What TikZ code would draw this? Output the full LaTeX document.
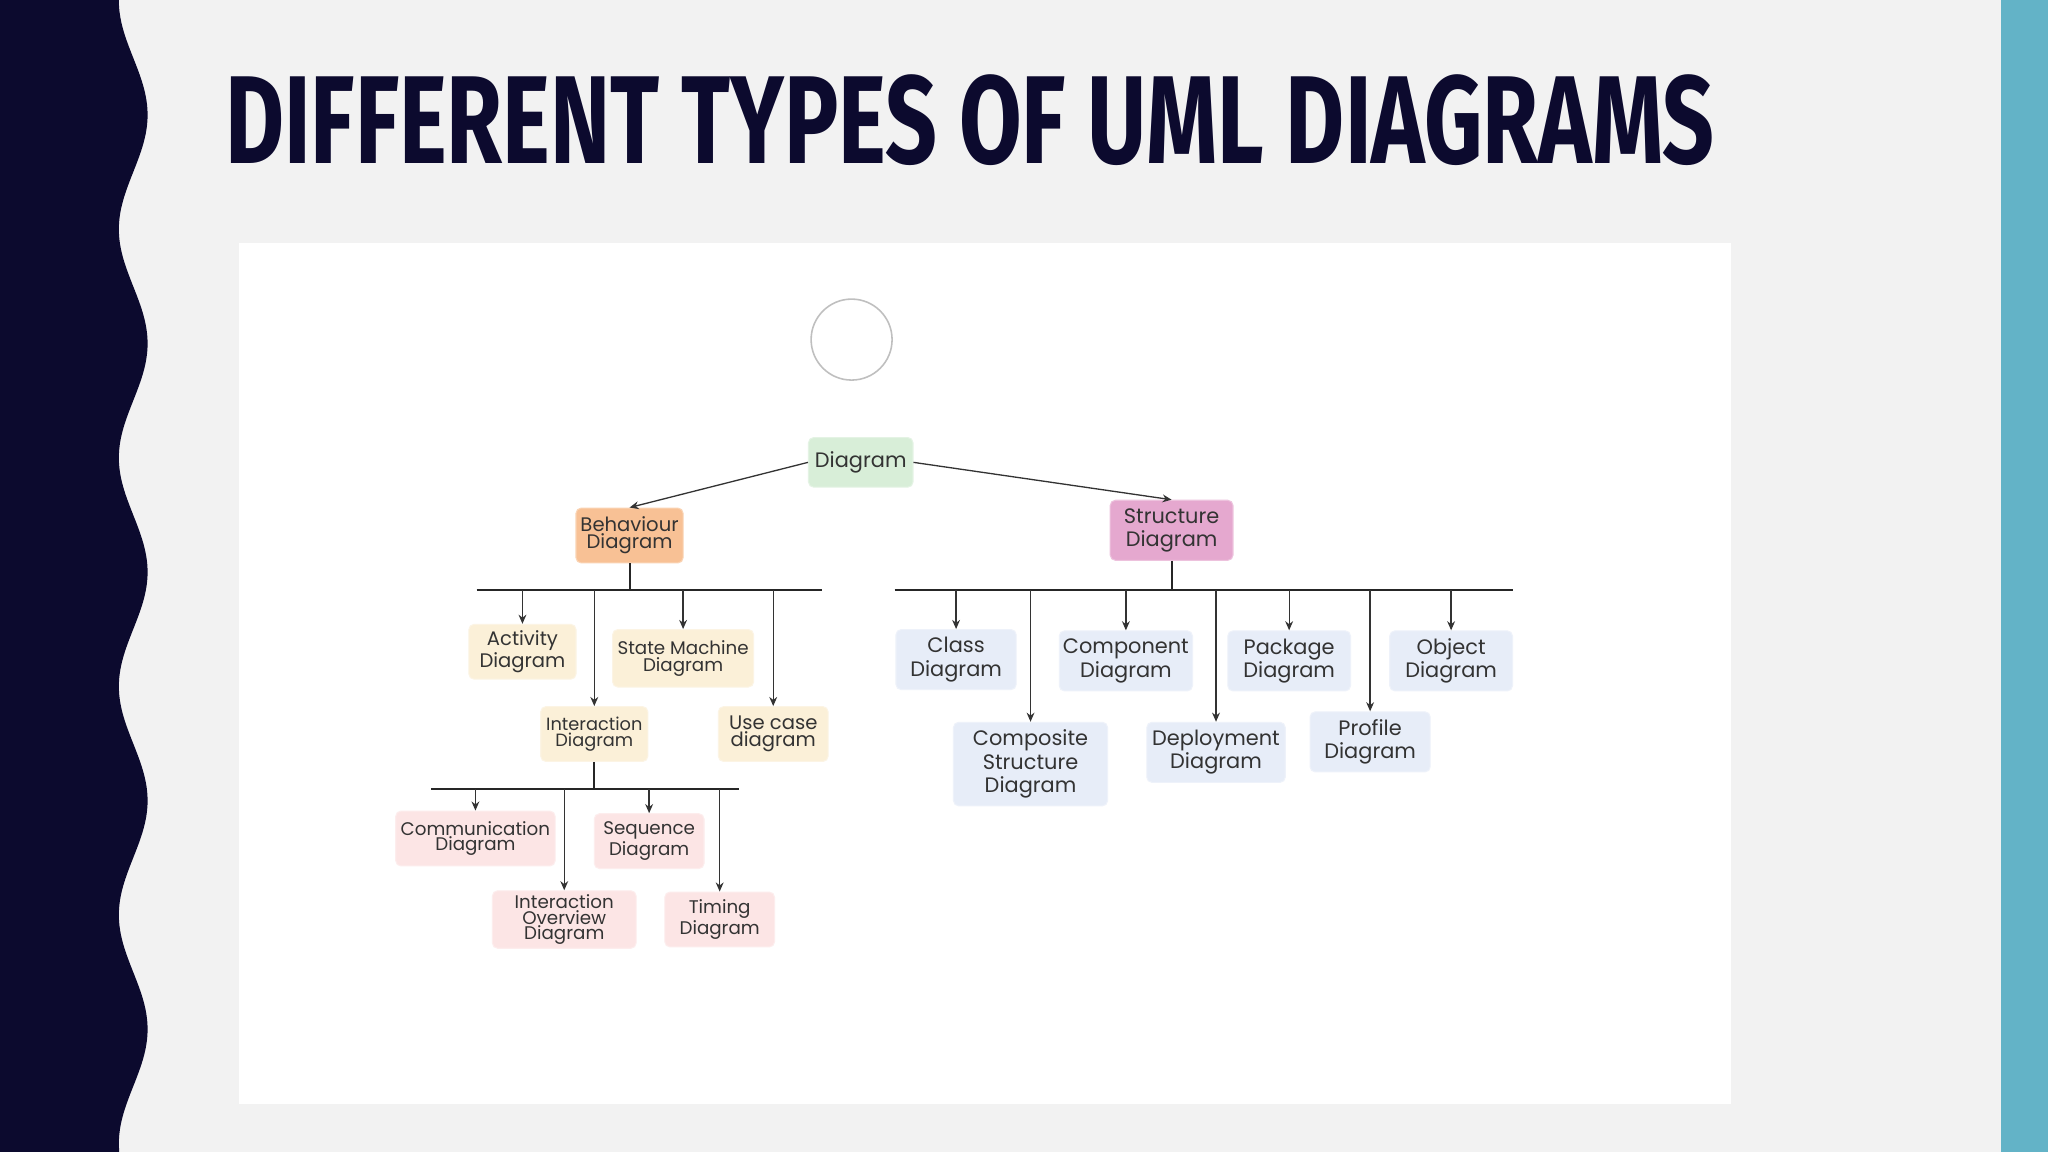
\documentclass[tikz,border=0pt]{standalone}
\usepackage{fontspec}
\setmainfont{Poppins}
\newfontfamily\titlefont{Fira Sans}
\usetikzlibrary{arrows.meta}
\definecolor{navy}{HTML}{0C0A2E}
\definecolor{teal}{HTML}{63B3C7}
\definecolor{slide}{HTML}{F2F2F2}
\tikzset{
  box/.style={draw=#1!70!white, fill=#1, rounded corners=2pt, align=center, inner sep=0pt, text=black!80, font=\fontsize{7.5}{6.5}\selectfont},
  tree/.style={line width=0.8pt, black!85},
  arr/.style={-{Stealth[length=3.5pt,width=3pt]}, line width=0.5pt, black!80},
}
\definecolor{cgreen}{HTML}{D8EED8}
\definecolor{corange}{HTML}{F8C195}
\definecolor{cpink}{HTML}{E5A8CF}
\definecolor{ccream}{HTML}{FBF0D8}
\definecolor{crose}{HTML}{FCE5E5}
\definecolor{cblue}{HTML}{E7EDF8}
\begin{document}
\begin{tikzpicture}[x=0.5pt,y=-0.5pt]
\useasboundingbox (0,0) rectangle (1568,882);
\fill[slide] (0,0) rectangle (1568,882);
% wavy band
\fill[navy] (0,0) -- plot[domain=0:882,samples=200,smooth] ({102+11*cos(2.0571*(\x-88))},\x) -- (0,882) -- cycle;
\fill[teal] (1532,0) rectangle (1568,882);
% title
\node[anchor=west, text=navy, inner sep=0pt] (title) at (172,92)
  {\resizebox{570pt}{34pt}{\titlefont\bfseries DIFFERENT TYPES OF UML DIAGRAMS}};
% panel
\fill[white] (183,186) rectangle (1325,845);
\draw[black!25, line width=0.6pt] (652,260) circle (31);

% root
\node[box=cgreen, minimum width=40pt, minimum height=19pt, font=\fontsize{8}{9}\selectfont] (d) at (659,354) {Diagram};
\node[box=corange, minimum width=41pt, minimum height=21pt] (b) at (482,410) {Behaviour\\Diagram};
\node[box=cpink, minimum width=47pt, minimum height=23pt, font=\fontsize{8}{9}\selectfont] (s) at (897,406) {Structure\\Diagram};
\draw[arr] (d.west) -- (b.north);
\draw[arr] (d.east) -- (s.north);

% behaviour
\coordinate (bl) at (365,452); \coordinate (br) at (629,452);
\draw[tree] (bl) -- (br);
\draw[tree] (b.south) -- (b.south |- bl);
\node[box=ccream, minimum width=41pt, minimum height=21pt] (act) at (400,499) {Activity\\Diagram};
\node[box=ccream, minimum width=54pt, minimum height=22pt, font=\fontsize{7}{6.5}\selectfont] (st) at (523,504) {State Machine\\Diagram};
\node[box=ccream, minimum width=41pt, minimum height=21pt, font=\fontsize{6.8}{6}\selectfont] (int) at (455,562) {Interaction\\Diagram};
\node[box=ccream, minimum width=42pt, minimum height=21pt] (uc) at (592,562) {Use case\\diagram};
\foreach \n in {act,st,int,uc} \draw[arr] (\n.north |- bl) -- (\n.north);

% interaction
\coordinate (il) at (330,604); \coordinate (ir) at (566,604);
\draw[tree] (il) -- (ir);
\draw[tree] (int.south) -- (int.south |- il);
\node[box=crose, minimum width=61pt, minimum height=21pt, font=\fontsize{7}{6}\selectfont] (com) at (364,642) {Communication\\Diagram};
\node[box=crose, minimum width=42pt, minimum height=21pt, font=\fontsize{7}{6}\selectfont] (seq) at (497,644) {Sequence\\Diagram};
\node[box=crose, minimum width=55pt, minimum height=22pt, font=\fontsize{7}{6}\selectfont] (io) at (432,704) {Interaction\\Overview\\Diagram};
\node[box=crose, minimum width=42pt, minimum height=21pt, font=\fontsize{7}{6}\selectfont] (tim) at (551,704) {Timing\\Diagram};
\foreach \n in {com,seq,io,tim} \draw[arr] (\n.north |- il) -- (\n.north);

% structure
\coordinate (sl) at (685,452); \coordinate (sr) at (1158,452);
\draw[tree] (sl) -- (sr);
\draw[tree] (s.south) -- (s.south |- sl);
\tikzset{sbox/.style={box=cblue, minimum height=23pt, font=\fontsize{8}{9}\selectfont}}
\node[sbox, minimum width=46pt] (cla) at (732,505) {Class\\Diagram};
\node[sbox, minimum width=51pt] (cmp) at (862,506) {Component\\Diagram};
\node[sbox, minimum width=47pt] (pkg) at (987,506) {Package\\Diagram};
\node[sbox, minimum width=47pt] (obj) at (1111,506) {Object\\Diagram};
\node[sbox, minimum width=59pt, minimum height=32pt] (cs) at (789,585) {Composite\\Structure\\Diagram};
\node[sbox, minimum width=53pt] (dep) at (931,576) {Deployment\\Diagram};
\node[sbox, minimum width=46pt] (pro) at (1049,568) {Profile\\Diagram};
\foreach \n in {cla,cmp,pkg,obj,cs,dep,pro} \draw[arr] (\n.north |- sl) -- (\n.north);
\end{tikzpicture}
\end{document}
